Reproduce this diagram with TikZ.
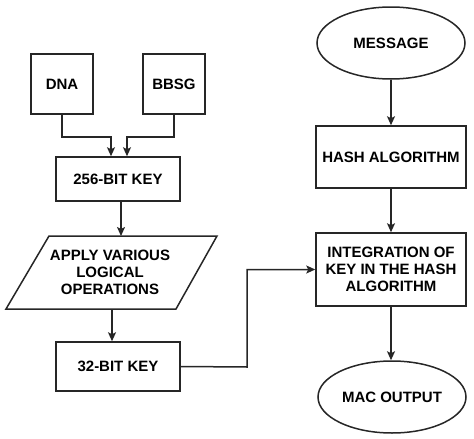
\documentclass[tikz,border=0pt]{standalone}
\usepackage{fontspec}
\setmainfont{Liberation Sans}
\usetikzlibrary{arrows.meta,shapes.geometric}
\begin{document}
\begin{tikzpicture}[x=1pt,y=-1pt,line width=1.5pt,draw=black!85,
  txt/.style={align=center,inner sep=0pt,font=\fontsize{15}{17}\selectfont\bfseries},
  box/.style={txt,draw,rectangle},
  ell/.style={txt,draw,ellipse},
  arr/.style={-{Stealth[length=9pt,width=8pt,inset=2pt]}}]
\useasboundingbox (0,0) rectangle (474,439);
% left column
\node[box,minimum width=62pt,minimum height=60pt] (dna) at (62,84) {DNA};
\node[box,minimum width=62pt,minimum height=60pt] (bbsg) at (174,84) {BBSG};
\node[box,minimum width=124pt,minimum height=44pt] (k256) at (118,179) {256-BIT KEY};
\coordinate (pTL) at (49,236);
\coordinate (pTR) at (217,236);
\coordinate (pBR) at (176,309);
\coordinate (pBL) at (6,309);
\draw (pTL) -- (pTR) -- (pBR) -- (pBL) -- cycle;
\node[txt] (ops) at (110,272.5) {APPLY VARIOUS\\LOGICAL\\OPERATIONS};
\coordinate (opsin) at (121,236);
\coordinate (opsout) at (112,309);
\node[box,minimum width=124pt,minimum height=49pt] (k32) at (118,366.5) {32-BIT KEY};
% right column
\node[ell,minimum width=148pt,minimum height=72pt] (msg) at (391,43) {MESSAGE};
\node[box,minimum width=150pt,minimum height=62pt] (hash) at (391,157) {HASH ALGORITHM};
\node[box,minimum width=150pt,minimum height=73pt] (integ) at (391,269.5) {INTEGRATION OF\\KEY IN THE HASH\\ALGORITHM};
\node[ell,minimum width=148pt,minimum height=72pt] (mac) at (392,397) {MAC OUTPUT};
% connectors
\coordinate (jl) at (111,137);
\coordinate (jr) at (127,137);
\draw[arr] (dna.south) |- (jl) -- (jl |- k256.north);
\draw[arr] (bbsg.south) |- (jr) -- (jr |- k256.north);
\draw[arr] (opsin |- k256.south) -- (opsin);
\draw[arr] (opsout) -- (opsout |- k32.north);
\coordinate (bend) at (247,367);
\draw[arr] (k32.east) -- (bend) |- (integ.west);
\draw[arr] (msg.south) -- (hash.north);
\draw[arr] (hash.south) -- (integ.north);
\draw[arr] (integ.south) -- (integ.south |- mac.north);
\end{tikzpicture}
\end{document}
